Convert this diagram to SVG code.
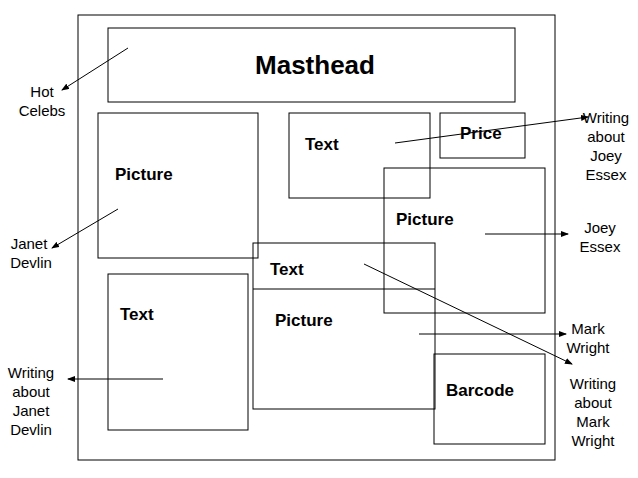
<svg xmlns="http://www.w3.org/2000/svg" width="638" height="478" viewBox="0 0 638 478">
<style>
rect{fill:none;stroke:#000;stroke-width:1}
.b{font:bold 17px "Liberation Sans",Arial,sans-serif}
.l{font:15px "Liberation Sans",Arial,sans-serif;text-anchor:middle}
.c line{stroke:#000;stroke-width:1;marker-end:url(#a)}
</style>
<defs><marker id="a" markerWidth="8" markerHeight="6" refX="7" refY="3" orient="auto" markerUnits="userSpaceOnUse"><path d="M0,0L8,3L0,6z"/></marker></defs>
<rect width="638" height="478" style="fill:#fff;stroke:none"/>
<g id="frame"><rect x="78" y="15" width="477" height="445"/></g>
<g id="masthead"><rect x="108" y="28" width="407" height="74"/><text x="315" y="74" class="b" style="font-size:26px" text-anchor="middle">Masthead</text></g>
<g id="picture1"><rect x="98" y="113" width="160" height="145"/><text x="115" y="180" class="b">Picture</text></g>
<g id="text1"><rect x="289" y="113" width="141" height="85"/><text x="305" y="150" class="b">Text</text></g>
<g id="price"><rect x="440" y="113" width="85" height="45"/><text x="460" y="139" class="b">Price</text></g>
<g id="picture2"><rect x="384" y="168" width="161" height="145"/><text x="396" y="225" class="b">Picture</text></g>
<g id="middle"><rect x="253" y="243" width="182" height="166"/><line x1="253" y1="289" x2="435" y2="289" stroke="#000"/><text x="270" y="275" class="b">Text</text><text x="275" y="326" class="b">Picture</text></g>
<g id="text2"><rect x="108" y="274" width="140" height="156"/><text x="120" y="320" class="b">Text</text></g>
<g id="barcode"><rect x="434" y="354" width="111" height="90"/><text x="446" y="396" class="b">Barcode</text></g>
<g id="labels">
<text class="l" x="42" y="97">Hot</text><text class="l" x="42" y="116">Celebs</text>
<text class="l" x="29" y="249">Janet</text><text class="l" x="31" y="268">Devlin</text>
<text class="l" x="31" y="378">Writing</text><text class="l" x="31" y="397">about</text><text class="l" x="31" y="416">Janet</text><text class="l" x="31" y="435">Devlin</text>
<text class="l" x="606" y="123">Writing</text><text class="l" x="606" y="142">about</text><text class="l" x="606" y="161">Joey</text><text class="l" x="606" y="180">Essex</text>
<text class="l" x="600" y="233">Joey</text><text class="l" x="600" y="252">Essex</text>
<text class="l" x="588" y="334">Mark</text><text class="l" x="588" y="353">Wright</text>
<text class="l" x="593" y="389">Writing</text><text class="l" x="593" y="408">about</text><text class="l" x="593" y="427">Mark</text><text class="l" x="593" y="446">Wright</text>
</g>
<g class="c" id="connectors">
<line x1="128" y1="48" x2="62" y2="90"/>
<line x1="118" y1="209" x2="52" y2="248"/>
<line x1="163" y1="379" x2="68" y2="379"/>
<line x1="395" y1="143" x2="588" y2="117"/>
<line x1="485" y1="234" x2="568" y2="234"/>
<line x1="419" y1="334" x2="566" y2="334"/>
<line x1="364" y1="264" x2="572" y2="364"/>
</g>
</svg>
